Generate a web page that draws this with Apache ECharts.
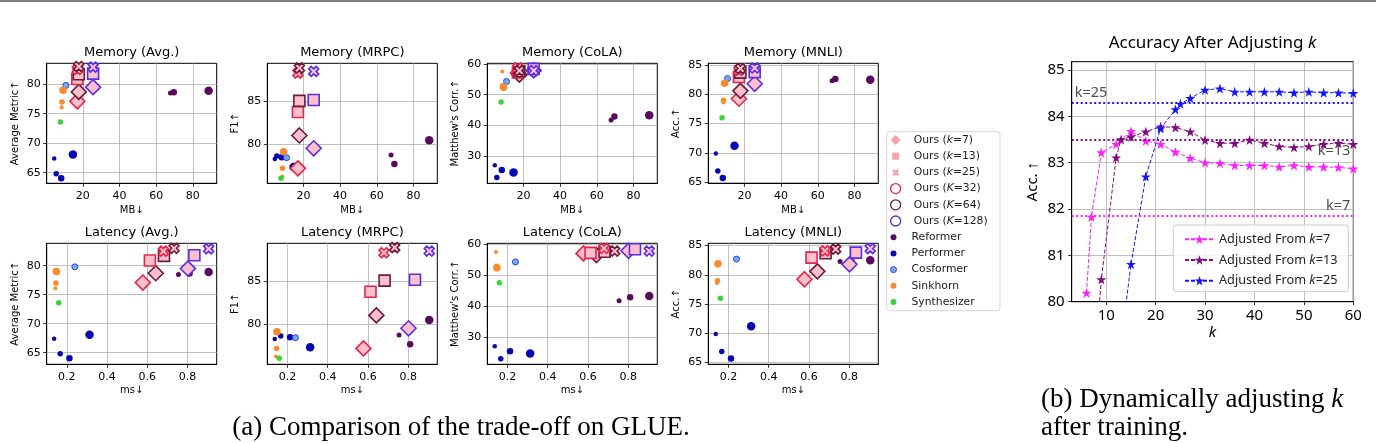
<!DOCTYPE html>
<html>
<head>
<meta charset="utf-8">
<script src="https://cdn.jsdelivr.net/npm/echarts@6.0.0/dist/echarts.min.js"></script>
<style>
html,body{margin:0;padding:0;background:#fff;}
#chart{width:1376px;height:443px;}
</style>
</head>
<body>
<div id="chart"></div>
<script>
// ===================== DATA =====================
const memTitles = ['Memory (Avg.)', 'Memory (MRPC)', 'Memory (CoLA)', 'Memory (MNLI)'];
const latTitles = ['Latency (Avg.)', 'Latency (MRPC)', 'Latency (CoLA)', 'Latency (MNLI)'];
const yNames = ['Average Metric↑', 'F1↑', "Matthew's Corr.↑", 'Acc.↑'];
const memTicks = [20, 40, 60, 80];
const latTicks = [0.2, 0.4, 0.6, 0.8];
const yTicksAvg = [65, 70, 75, 80];
const yTicksMRPC = [80, 85];
const yTicksCoLA = [30, 40, 50, 60];
const yTicksMNLI = [65, 70, 75, 80, 85];

// Ours, one entry per K = 32, 64, 128
const oursK = ['K=32', 'K=64', 'K=128'];
const oursMem = [17.0, 17.8, 25.6];
const oursLat7 = [0.578, 0.642, 0.802];
const oursLat13 = [0.613, 0.683, 0.834];
const oursLat25 = [0.680, 0.733, 0.905];
const oursAvg7 = [77.1, 78.7, 79.5];
const oursAvg13 = [80.9, 81.7, 81.8];
const oursAvg25 = [82.5, 83.0, 82.9];
const oursMRPC7 = [77.15, 81.0, 79.5];
const oursMRPC13 = [83.75, 85.05, 85.15];
const oursMRPC25 = [88.3, 88.9, 88.5];
const oursCoLA7 = [57.05, 56.5, 57.9];
const oursCoLA13 = [57.2, 57.6, 58.4];
const oursCoLA25 = [58.7, 57.8, 57.8];
const oursMNLI7 = [79.25, 80.6, 81.8];
const oursMNLI13 = [82.95, 83.7, 83.8];
const oursMNLI25 = [84.1, 84.4, 84.5];

// Baselines (several configurations each)
const reformerMem = [67.8, 69.6, 88.6];
const reformerLat = [0.755, 0.81, 0.905];
const reformerAvg = [78.5, 78.65, 78.9];
const reformerMRPC = [78.7, 77.65, 80.45];
const reformerCoLA = [41.8, 42.9, 43.3];
const reformerMNLI = [82.3, 82.6, 82.5];

const performerMem = [4.4, 5.5, 8.2, 14.6];
const performerLat = [0.137, 0.167, 0.213, 0.313];
const performerAvg = [67.4, 64.8, 64.05, 68.1];
const performerMRPC = [78.25, 78.6, 78.45, 77.3];
const performerCoLA = [27.1, 23.1, 25.5, 24.75];
const performerMNLI = [69.9, 66.9, 65.7, 71.2];

const cosformerMem = [10.8];
const cosformerLat = [0.24];
const cosformerAvg = [79.8];
const cosformerMRPC = [78.4];
const cosformerCoLA = [54.3];
const cosformerMNLI = [82.7];

const sinkhornMem = [8.5, 8.6, 9.2];
const sinkhornLat = [0.143, 0.146, 0.148];
const sinkhornAvg = [76.1, 77.0, 79.0];
const sinkhornMRPC = [76.2, 77.15, 79.1];
const sinkhornCoLA = [57.5, 52.9, 52.4];
const sinkhornMNLI = [78.6, 79.0, 81.9];

const synthMem = [7.8];
const synthLat = [0.16];
const synthAvg = [73.6];
const synthMRPC = [76.0];
const synthCoLA = [47.6];
const synthMNLI = [76.0];

// Right chart: accuracy after adjusting k
const rightNames = ['Adjusted From k=7', 'Adjusted From k=13', 'Adjusted From k=25'];
const kFrom7 = [6, 7, 9, 12, 15, 18, 21, 24, 27, 30, 33, 36, 39, 42, 45, 48, 51, 54, 57, 60];
const accFrom7 = [80.19, 81.83, 83.22, 83.40, 83.68, 83.47, 83.40, 83.23, 83.10, 83.00, 82.99, 82.94, 82.94, 82.94, 82.91, 82.94, 82.91, 82.91, 82.90, 82.87];
const kFrom13 = [6, 9, 12, 13, 15, 18, 21, 24, 27, 30, 33, 36, 39, 42, 45, 48, 51, 54, 57, 60];
const accFrom13 = [76.4, 80.48, 83.11, 83.50, 83.56, 83.67, 83.78, 83.76, 83.67, 83.49, 83.42, 83.42, 83.49, 83.42, 83.35, 83.33, 83.35, 83.40, 83.42, 83.40];
const kFrom25 = [12, 15, 18, 21, 24, 25, 27, 30, 33, 36, 39, 42, 45, 48, 51, 54, 57, 60];
const accFrom25 = [78.25, 80.81, 82.70, 83.74, 84.15, 84.27, 84.39, 84.57, 84.60, 84.53, 84.53, 84.53, 84.53, 84.51, 84.53, 84.51, 84.51, 84.50];
const refLevels = [81.85, 83.49, 84.29];
const refLabels = ['k=7', 'k=13', 'k=25'];
const rightXTicks = [10, 20, 30, 40, 50, 60];
const rightYTicks = [80, 81, 82, 83, 84, 85];

// ===================== STYLE =====================
const FONT = 'DejaVu Sans';
const RFONT = 'Noto Sans';
const GRID_LEFTS = [46.7, 267.3, 487.3, 708.3];
const GRID_W = 170;
const ROW_TOPS = [63.3, 243.3];
const ROW_H = [120, 121];
const MEM_RANGE = [0.3, 93];
const LAT_RANGE = [0.1, 0.945];
const Y_RANGE_MEM = [[63.2, 83.55], [75.4, 89.45], [21.2, 60.2], [64.8, 85.3]];
const Y_RANGE_LAT = [[63.0, 83.86], [75.3, 89.4], [21.3, 60.3], [64.7, 85.4]];
const Y_TICKS = [yTicksAvg, yTicksMRPC, yTicksCoLA, yTicksMNLI];

const COL_REFORMER = '#5a0a5e';
const COL_PERFORMER = '#0606b4';
const COL_COS_FILL = '#78aaf4';
const COL_COS_EDGE = '#2b43e0';
const COL_SINKHORN = '#fb8a2c';
const COL_SYNTH = '#3ad33a';
const OURS_FILL = '#ffbfcb';
const OURS_LEG = '#f6a2a6';
const K_COLORS = ['#e8234b', '#6a1a3c', '#5a2fe3'];
const RCOL = ['#ff1cff', '#800a80', '#1414ff'];

const SIZE_REFORMER = [5, 6.5, 8.5];
const SIZE_PERFORMER = [4.5, 5.5, 6.5, 8.5];
const SIZE_SINKHORN = [4, 5.5, 7.5];
const SIZE_COS = [6];
const SIZE_SYNTH = [5.5];

const XSYM = 'path://M2.5,0L5,2.5L7.5,0L10,2.5L7.5,5L10,7.5L7.5,10L5,7.5L2.5,10L0,7.5L2.5,5L0,2.5Z';
const LEG_X = 'path://M0,0M10,10M3.25,1.5L5,3.25L6.75,1.5L8.5,3.25L6.75,5L8.5,6.75L6.75,8.5L5,6.75L3.25,8.5L1.5,6.75L3.25,5L1.5,3.25Z';
const LEG_DIAM = 'path://M5,0L10,5L5,10L0,5Z';
const LEG_SQR = 'path://M0,0M10,10M1.5,1.5L8.5,1.5L8.5,8.5L1.5,8.5Z';
const STAR = 'path://M50,0L61.2,34.5L97.6,34.5L68.2,55.9L79.4,90.5L50,69.1L20.6,90.5L31.8,55.9L2.4,34.5L38.8,34.5Z';

function richK(name) {
  const m = name.match(/^(.*?)([kK])(=.*)$/);
  return m ? '{t|' + m[1] + '}{i|' + m[2] + '}{t|' + m[3] + '}' : '{t|' + name + '}';
}

// ===================== BUILD =====================
const grids = [], xAxes = [], yAxes = [], titles = [], series = [];

const baseTables = [
  {name: 'Reformer', mem: reformerMem, lat: reformerLat, acc: [reformerAvg, reformerMRPC, reformerCoLA, reformerMNLI], size: SIZE_REFORMER, style: {color: COL_REFORMER, opacity: 1}},
  {name: 'Performer', mem: performerMem, lat: performerLat, acc: [performerAvg, performerMRPC, performerCoLA, performerMNLI], size: SIZE_PERFORMER, style: {color: COL_PERFORMER, opacity: 1}},
  {name: 'Cosformer', mem: cosformerMem, lat: cosformerLat, acc: [cosformerAvg, cosformerMRPC, cosformerCoLA, cosformerMNLI], size: SIZE_COS, style: {color: COL_COS_FILL, borderColor: COL_COS_EDGE, borderWidth: 1, opacity: 1}},
  {name: 'Sinkhorn', mem: sinkhornMem, lat: sinkhornLat, acc: [sinkhornAvg, sinkhornMRPC, sinkhornCoLA, sinkhornMNLI], size: SIZE_SINKHORN, style: {color: COL_SINKHORN, opacity: 1}},
  {name: 'Synthesizer', mem: synthMem, lat: synthLat, acc: [synthAvg, synthMRPC, synthCoLA, synthMNLI], size: SIZE_SYNTH, style: {color: COL_SYNTH, opacity: 1}}
];
const oursAcc7 = [oursAvg7, oursMRPC7, oursCoLA7, oursMNLI7];
const oursAcc13 = [oursAvg13, oursMRPC13, oursCoLA13, oursMNLI13];
const oursAcc25 = [oursAvg25, oursMRPC25, oursCoLA25, oursMNLI25];
const oursShapes = [
  {name: 'Ours (k=7)', symbol: 'diamond', size: 15, lat: oursLat7, acc: oursAcc7},
  {name: 'Ours (k=13)', symbol: 'rect', size: 11, lat: oursLat13, acc: oursAcc13},
  {name: 'Ours (k=25)', symbol: XSYM, size: 10, lat: oursLat25, acc: oursAcc25}
];

for (let r = 0; r < 2; r++) {
  for (let c = 0; c < 4; c++) {
    const gi = r * 4 + c;
    const isMem = r === 0;
    grids.push({left: GRID_LEFTS[c], top: ROW_TOPS[r], width: GRID_W, height: ROW_H[r],
      show: true, borderColor: '#000', borderWidth: 1, backgroundColor: 'rgba(0,0,0,0)',
      containLabel: false, outerBoundsMode: 'none'});
    const xt = isMem ? memTicks : latTicks;
    xAxes.push({
      gridIndex: gi, type: 'value',
      min: isMem ? MEM_RANGE[0] : LAT_RANGE[0], max: isMem ? MEM_RANGE[1] : LAT_RANGE[1],
      name: isMem ? 'MB↓' : 'ms↓', nameLocation: 'middle', nameGap: isMem ? 22 : 21, nameMoveOverlap: false,
      nameTextStyle: {fontFamily: FONT, fontSize: 10, color: '#000'},
      axisLine: {show: true, onZero: false, lineStyle: {color: '#000', width: 1}},
      axisTick: {show: true, inside: false, length: 3.5, lineStyle: {color: '#000', width: 0.8}, customValues: xt},
      axisLabel: {show: true, customValues: xt, fontFamily: FONT, fontSize: 11, color: '#000', margin: 7},
      splitLine: {show: true, lineStyle: {color: '#b0b0b0', width: 0.8}}
    });
    const yr = isMem ? Y_RANGE_MEM[c] : Y_RANGE_LAT[c];
    yAxes.push({
      gridIndex: gi, type: 'value', min: yr[0], max: yr[1],
      name: yNames[c], nameLocation: 'middle', nameGap: 26.5, nameRotate: 90, nameMoveOverlap: false,
      nameTextStyle: {fontFamily: FONT, fontSize: 10, color: '#000'},
      axisLine: {show: true, onZero: false, lineStyle: {color: '#000', width: 1}},
      axisTick: {show: true, inside: false, length: 3.5, lineStyle: {color: '#000', width: 0.8}, customValues: Y_TICKS[c]},
      axisLabel: {show: true, customValues: Y_TICKS[c], fontFamily: FONT, fontSize: 11, color: '#000', margin: 6},
      splitLine: {show: true, lineStyle: {color: '#b0b0b0', width: 0.8}}
    });
    titles.push({
      text: isMem ? memTitles[c] : latTitles[c],
      left: GRID_LEFTS[c] + GRID_W / 2, top: isMem ? 52.7 : 232.3,
      textAlign: 'center', textVerticalAlign: 'middle', padding: 0,
      textStyle: {fontFamily: FONT, fontSize: 13, fontWeight: 'normal', color: '#000'}
    });
    // baselines first (drawn below)
    baseTables.forEach(b => {
      const xs = isMem ? b.mem : b.lat;
      const ys = b.acc[c];
      series.push({
        type: 'scatter', name: b.name, xAxisIndex: gi, yAxisIndex: gi, silent: true, z: 2,
        symbol: 'circle', symbolSize: (v, p) => b.size[p.dataIndex],
        data: xs.map((x, i) => [x, ys[i]]), itemStyle: b.style
      });
    });
    oursShapes.forEach(s => {
      const xs = isMem ? oursMem : s.lat;
      const ys = s.acc[c];
      series.push({
        type: 'scatter', name: s.name, xAxisIndex: gi, yAxisIndex: gi, silent: true, z: 3,
        symbol: s.symbol, symbolSize: s.size,
        data: xs.map((x, i) => ({value: [x, ys[i]], itemStyle: {borderColor: K_COLORS[i]}})),
        itemStyle: {color: OURS_FILL, borderWidth: 1.6, opacity: 1}
      });
    });
  }
}
// legend-only entries for K edge colours
oursK.forEach(k => series.push({type: 'scatter', name: 'Ours (' + k + ')', xAxisIndex: 0, yAxisIndex: 0, data: []}));

// Right chart
grids.push({left: 1071.7, top: 61.7, width: 281.6, height: 240, show: true, borderColor: '#000', borderWidth: 1,
  backgroundColor: 'rgba(0,0,0,0)', containLabel: false, outerBoundsMode: 'none'});
xAxes.push({
  gridIndex: 8, type: 'value', min: 3, max: 60,
  name: 'k', nameLocation: 'middle', nameGap: 24, nameMoveOverlap: false,
  nameTextStyle: {fontFamily: RFONT, fontSize: 15, fontStyle: 'italic', color: '#000'},
  axisLine: {show: true, onZero: false, lineStyle: {color: '#000', width: 1}},
  axisTick: {show: true, inside: false, length: 3.5, lineStyle: {color: '#000', width: 0.8}, customValues: rightXTicks},
  axisLabel: {show: true, customValues: rightXTicks, fontFamily: RFONT, fontSize: 15, color: '#000', margin: 7},
  splitLine: {show: true, lineStyle: {color: '#b0b0b0', width: 0.8}}
});
yAxes.push({
  gridIndex: 8, type: 'value', min: 80, max: 85.18,
  name: 'Acc. ↑', nameLocation: 'middle', nameGap: 31, nameRotate: 90, nameMoveOverlap: false,
  nameTextStyle: {fontFamily: RFONT, fontSize: 15, color: '#000'},
  axisLine: {show: true, onZero: false, lineStyle: {color: '#000', width: 1}},
  axisTick: {show: true, inside: false, length: 3.5, lineStyle: {color: '#000', width: 0.8}, customValues: rightYTicks},
  axisLabel: {show: true, customValues: rightYTicks, fontFamily: RFONT, fontSize: 15, color: '#000', margin: 7},
  splitLine: {show: true, lineStyle: {color: '#b0b0b0', width: 0.8}}
});
titles.push({
  text: '{t|Accuracy After Adjusting }{i|k}', left: 1212.5, top: 43.3,
  textAlign: 'center', textVerticalAlign: 'middle', padding: 0,
  textStyle: {fontFamily: RFONT, fontSize: 17, fontWeight: 'normal', color: '#000',
    rich: {t: {fontFamily: RFONT, fontSize: 17, color: '#000'}, i: {fontFamily: RFONT, fontSize: 17, fontStyle: 'italic', color: '#000'}}}
});
const REF_POS = ['insideEndTop', 'insideEndBottom', 'insideStartTop'];
[[kFrom7, accFrom7], [kFrom13, accFrom13], [kFrom25, accFrom25]].forEach((pair, i) => {
  const ks = pair[0], as = pair[1];
  series.push({
    type: 'line', name: rightNames[i], xAxisIndex: 8, yAxisIndex: 8, silent: true, clip: true, z: 2,
    data: ks.map((k, j) => [k, as[j]]),
    symbol: STAR, symbolSize: 10, showSymbol: true, showAllSymbol: true,
    lineStyle: {color: RCOL[i], width: 1, type: [4, 2]}, itemStyle: {color: RCOL[i], opacity: 1},
    markLine: {
      symbol: 'none', silent: true, animation: false,
      lineStyle: {color: RCOL[i], type: [2, 2.5], width: 2},
      label: {show: true, position: REF_POS[i], formatter: refLabels[i], fontFamily: RFONT, fontSize: 14.5, color: '#4d4d4d', distance: 3},
      data: [{yAxis: refLevels[i]}]
    }
  });
});

const legendTextL = {fontFamily: FONT, fontSize: 10.8, color: '#1a1a1a', lineHeight: 12,
  rich: {t: {fontFamily: FONT, fontSize: 10.8, color: '#1a1a1a', lineHeight: 12},
         i: {fontFamily: FONT, fontSize: 10.8, fontStyle: 'italic', color: '#1a1a1a', lineHeight: 12}}};
const legends = [
  {orient: 'vertical', left: 890, top: 134, itemWidth: 26, itemHeight: 10, itemGap: 4.2, padding: 0,
   selectedMode: false, formatter: richK, textStyle: legendTextL, symbolKeepAspect: true,
   data: [
     {name: 'Ours (k=7)', icon: LEG_DIAM, itemStyle: {color: OURS_LEG, borderWidth: 0, opacity: 1}},
     {name: 'Ours (k=13)', icon: LEG_SQR, itemStyle: {color: OURS_LEG, borderWidth: 0, opacity: 1}},
     {name: 'Ours (k=25)', icon: LEG_X, itemStyle: {color: OURS_LEG, borderWidth: 0, opacity: 1}},
     {name: 'Ours (K=32)', icon: 'circle', itemStyle: {color: 'rgba(255,255,255,0)', borderColor: K_COLORS[0], borderWidth: 1.3, opacity: 1}},
     {name: 'Ours (K=64)', icon: 'circle', itemStyle: {color: 'rgba(255,255,255,0)', borderColor: K_COLORS[1], borderWidth: 1.3, opacity: 1}},
     {name: 'Ours (K=128)', icon: 'circle', itemStyle: {color: 'rgba(255,255,255,0)', borderColor: K_COLORS[2], borderWidth: 1.3, opacity: 1}}
   ]},
  {orient: 'vertical', left: 890, top: 231.2, itemWidth: 26, itemHeight: 6, itemGap: 4.2, padding: 0,
   selectedMode: false, formatter: richK, textStyle: legendTextL,
   data: [
     {name: 'Reformer', icon: 'circle', itemStyle: {color: COL_REFORMER, borderWidth: 0, opacity: 1}},
     {name: 'Performer', icon: 'circle', itemStyle: {color: COL_PERFORMER, borderWidth: 0, opacity: 1}},
     {name: 'Cosformer', icon: 'circle', itemStyle: {color: COL_COS_FILL, borderColor: COL_COS_EDGE, borderWidth: 1, opacity: 1}},
     {name: 'Sinkhorn', icon: 'circle', itemStyle: {color: COL_SINKHORN, borderWidth: 0, opacity: 1}},
     {name: 'Synthesizer', icon: 'circle', itemStyle: {color: COL_SYNTH, borderWidth: 0, opacity: 1}}
   ]},
  {orient: 'vertical', left: 1184, top: 232.3, itemWidth: 29, itemHeight: 12, itemGap: 6.7, padding: 0,
   selectedMode: false, formatter: richK, data: rightNames,
   textStyle: {fontFamily: RFONT, fontSize: 12.7, color: '#222', lineHeight: 14,
     rich: {t: {fontFamily: RFONT, fontSize: 12.7, color: '#222', lineHeight: 14},
            i: {fontFamily: RFONT, fontSize: 12.7, fontStyle: 'italic', color: '#222', lineHeight: 14}}}}
];

const graphics = [
  {type: 'line', shape: {x1: 0, y1: 1, x2: 1376, y2: 1}, style: {stroke: '#000', lineWidth: 1.2}, z: 1},
  {type: 'rect', shape: {x: 886.7, y: 131.7, width: 113.3, height: 179, r: 3}, style: {fill: '#fff', stroke: '#d4d4d4', lineWidth: 1}, z: 3},
  {type: 'rect', shape: {x: 1173.3, y: 225, width: 175, height: 66.7, r: 3}, style: {fill: 'rgba(255,255,255,0.8)', stroke: '#cccccc', lineWidth: 1}, z: 3},
  {type: 'text', x: 461, y: 428, z: 5, style: {text: '(a) Comparison of the trade-off on GLUE.', fontFamily: 'Liberation Serif', fontSize: 27, fill: '#000', align: 'center', textAlign: 'center', verticalAlign: 'middle', textVerticalAlign: 'middle'}},
  {type: 'text', x: 1041, y: 400, z: 5, style: {text: '{a|(b) Dynamically adjusting }{i|k}', fill: '#000', align: 'left', textAlign: 'left', verticalAlign: 'middle', textVerticalAlign: 'middle',
     rich: {a: {fontFamily: 'Liberation Serif', fontSize: 27, fill: '#000'}, i: {fontFamily: 'Liberation Serif', fontSize: 27, fontStyle: 'italic', fill: '#000'}}}},
  {type: 'text', x: 1041, y: 428, z: 5, style: {text: 'after training.', fontFamily: 'Liberation Serif', fontSize: 27, fill: '#000', align: 'left', textAlign: 'left', verticalAlign: 'middle', textVerticalAlign: 'middle'}}
];

const option = {
  animation: false,
  backgroundColor: '#ffffff',
  textStyle: {fontFamily: FONT},
  title: titles,
  legend: legends,
  grid: grids,
  xAxis: xAxes,
  yAxis: yAxes,
  series: series,
  graphic: {elements: graphics}
};

const chart = echarts.init(document.getElementById('chart'), null, {renderer: 'canvas'});
chart.setOption(option);
</script>
</body>
</html>
